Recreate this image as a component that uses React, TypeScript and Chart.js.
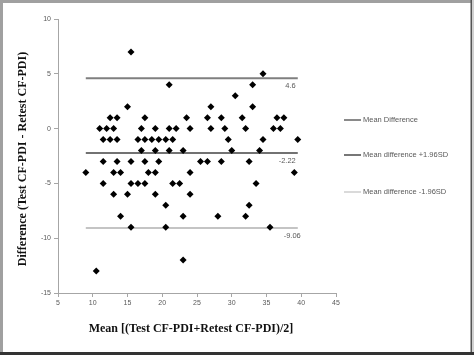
import React, { useEffect, useRef } from "react";
import { Chart, registerables } from "chart.js";

Chart.register(...registerables);

// Bland-Altman data: mean of test/retest (x) and difference (y)
const meanX = [
  15.5,
  34.5,
  21, 33,
  30.5,
  15, 27, 33,
  12.5, 13.5, 17.5, 23.5, 26.5, 28.5, 31.5, 36.5, 37.5,
  11, 12, 13, 17, 19, 21, 22, 24, 27, 29, 32, 36, 37,
  11.5, 12.5, 13.5, 16.5, 17.5, 18.5, 19.5, 20.5, 21.5, 29.5, 34.5, 39.5,
  17, 19, 21, 23, 30, 34,
  11.5, 13.5, 15.5, 17.5, 19.5, 25.5, 26.5, 28.5, 32.5,
  9, 13, 14, 18, 19, 24, 39,
  11.5, 15.5, 16.5, 17.5, 21.5, 22.5, 33.5,
  13, 15, 19, 24,
  20.5, 32.5,
  14, 23, 28, 32,
  15.5, 20.5, 35.5,
  23,
  10.5,
];
const diffY = [
  7,
  5,
  4, 4,
  3,
  2, 2, 2,
  1, 1, 1, 1, 1, 1, 1, 1, 1,
  0, 0, 0, 0, 0, 0, 0, 0, 0, 0, 0, 0, 0,
  -1, -1, -1, -1, -1, -1, -1, -1, -1, -1, -1, -1,
  -2, -2, -2, -2, -2, -2,
  -3, -3, -3, -3, -3, -3, -3, -3, -3,
  -4, -4, -4, -4, -4, -4, -4,
  -5, -5, -5, -5, -5, -5, -5,
  -6, -6, -6, -6,
  -7, -7,
  -8, -8, -8, -8,
  -9, -9, -9,
  -12,
  -13,
];

const upperLimit = 4.6;
const meanDifference = -2.22;
const lowerLimit = -9.06;
const limitLabels = ["4.6", "-2.22", "-9.06"];

const xMin = 5;
const xMax = 45;
const xStep = 5;
const yMin = -15;
const yMax = 10;
const yStep = 5;

const xTitle = "Mean [(Test CF-PDI+Retest CF-PDI)/2]";
const yTitle = "Difference (Test CF-PDI - Retest CF-PDI)";
const legendLabels = [
  "Mean Difference",
  "Mean difference +1.96SD",
  "Mean difference -1.96SD",
];

const W = 474;
const H = 355;

export default function App() {
  const ref = useRef<HTMLCanvasElement | null>(null);

  useEffect(() => {
    if (!ref.current) return;
    const lo = Math.min(...meanX);
    const hi = Math.max(...meanX);
    const hline = (v: number) => [
      { x: lo, y: v },
      { x: hi, y: v },
    ];
    const axisGray = "#a6a6a6";
    const tickColor = "#595959";

    const decor = {
      id: "decor",
      beforeDraw(chart: any) {
        const ctx = chart.ctx;
        ctx.save();
        ctx.fillStyle = "#ffffff";
        ctx.fillRect(0, 0, W, H);
        // frame
        ctx.fillStyle = "#a0a0a0";
        ctx.fillRect(0, 0, W, 3);
        ctx.fillRect(0, 0, 3, H);
        ctx.fillStyle = "#555555";
        ctx.fillRect(470.5, 0, 1.5, H);
        ctx.fillStyle = "#d0d0d0";
        ctx.fillRect(472, 0, 2, H);
        ctx.fillStyle = "#333333";
        ctx.fillRect(0, 352, W, 3);
        ctx.restore();
      },
      afterDraw(chart: any) {
        const ctx = chart.ctx;
        const xs = chart.scales.x;
        const ys = chart.scales.y;
        ctx.save();
        // axis titles
        ctx.fillStyle = "#111111";
        ctx.font = "bold 12px 'Liberation Serif', 'Times New Roman', serif";
        ctx.textAlign = "center";
        ctx.textBaseline = "middle";
        ctx.fillText(xTitle, 191, 329);
        ctx.save();
        ctx.translate(23, 159);
        ctx.rotate(-Math.PI / 2);
        ctx.fillText(yTitle, 0, 0);
        ctx.restore();

        // limit labels
        ctx.font = "7.5px 'Liberation Sans', Arial, sans-serif";
        ctx.fillStyle = "#595959";
        ctx.textAlign = "right";
        const hiPx = xs.getPixelForValue(hi);
        const vals = [upperLimit, meanDifference, lowerLimit];
        const dx = [-2, -2, 3];
        vals.forEach((v, i) => {
          ctx.fillText(limitLabels[i], hiPx + dx[i], ys.getPixelForValue(v) + 8);
        });

        // legend
        const legendY = [120, 155, 192];
        const legendColors = ["#8a8a8a", "#4a4a4a", "#b5b5b5"];
        const legendWidths = [2, 1.5, 1];
        ctx.textAlign = "left";
        legendLabels.forEach((t, i) => {
          ctx.strokeStyle = legendColors[i];
          ctx.lineWidth = legendWidths[i];
          ctx.beginPath();
          ctx.moveTo(344, legendY[i]);
          ctx.lineTo(361, legendY[i]);
          ctx.stroke();
          ctx.fillStyle = "#595959";
          ctx.fillText(t, 363, legendY[i]);
        });
        ctx.restore();
      },
    };

    const chart = new Chart(ref.current, {
      type: "scatter",
      data: {
        datasets: [
          {
            label: "Difference",
            data: meanX.map((x, i) => ({ x, y: diffY[i] })),
            pointStyle: "rectRot",
            pointRadius: 3.5,
            backgroundColor: "#000000",
            borderColor: "#000000",
            borderWidth: 0,
            showLine: false,
          },
          {
            label: "Upper",
            data: hline(upperLimit),
            showLine: true,
            borderColor: "#7f7f7f",
            borderWidth: 2,
            pointRadius: 0,
          },
          {
            label: "Mean",
            data: hline(meanDifference),
            showLine: true,
            borderColor: "#727272",
            borderWidth: 2,
            pointRadius: 0,
          },
          {
            label: "Lower",
            data: hline(lowerLimit),
            showLine: true,
            borderColor: "#c4c4c4",
            borderWidth: 2,
            pointRadius: 0,
          },
        ],
      },
      options: {
        responsive: false,
        animation: false,
        devicePixelRatio: 1,
        layout: { padding: { left: 0, top: 19, right: 138, bottom: 0 } },
        plugins: {
          legend: { display: false },
          tooltip: { enabled: false },
          title: { display: false },
        },
        scales: {
          x: {
            type: "linear",
            min: xMin,
            max: xMax,
            afterFit: (s: any) => {
              s.height = 62;
            },
            ticks: {
              stepSize: xStep,
              color: tickColor,
              font: { size: 7, family: "'Liberation Sans', Arial, sans-serif" },
              padding: 2,
              maxRotation: 0,
            },
            border: { color: axisGray, width: 1 },
            grid: {
              drawOnChartArea: false,
              drawTicks: true,
              tickLength: 4,
              color: axisGray,
            },
          },
          y: {
            type: "linear",
            min: yMin,
            max: yMax,
            afterFit: (s: any) => {
              s.width = 58;
            },
            ticks: {
              stepSize: yStep,
              color: tickColor,
              font: { size: 7, family: "'Liberation Sans', Arial, sans-serif" },
              padding: 3,
            },
            border: { color: axisGray, width: 1 },
            grid: {
              drawOnChartArea: false,
              drawTicks: true,
              tickLength: 4,
              color: axisGray,
            },
          },
        },
      },
      plugins: [decor],
    } as any);

    return () => chart.destroy();
  }, []);

  return (
    <div style={{ position: "fixed", left: 0, top: 0, width: W, height: H, background: "#fff" }}>
      <canvas ref={ref} width={W} height={H} style={{ display: "block" }} />
    </div>
  );
}
